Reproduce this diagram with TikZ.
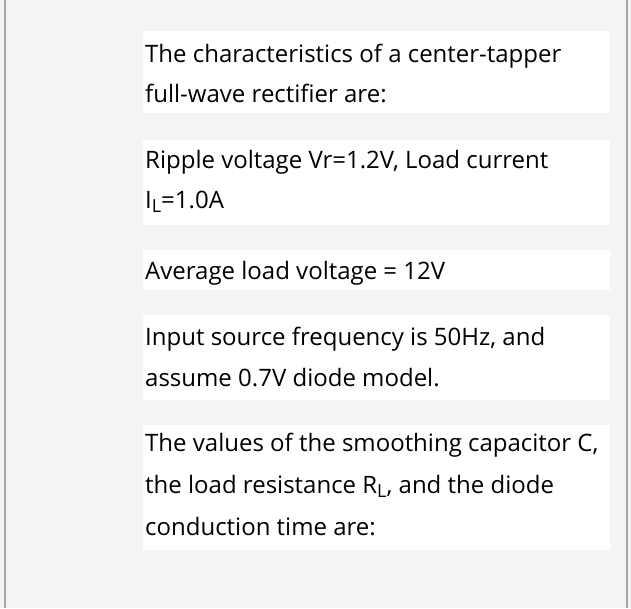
\documentclass[tikz,border=0pt]{standalone}
\usepackage{fontspec}
\setmainfont{Open Sans}
\begin{document}
\begin{tikzpicture}[x=1pt,y=-1pt,
  tl/.style={anchor=base west,inner sep=0pt,font=\fontsize{24}{28}\selectfont},
  box/.style={fill=white,draw=none}]
\fill[gray!9] (0,0) rectangle (631,608);
\useasboundingbox (0,0) rectangle (631,608);
\draw[gray!70,line width=1.2pt] (5,0) -- (5,608) (627,0) -- (627,608);
\fill[white] (143,31) rectangle (610,113);
\fill[white] (143,140) rectangle (610,225);
\fill[white] (143,250) rectangle (610,290);
\fill[white] (143,315) rectangle (610,400);
\fill[white] (143,425) rectangle (610,550);
\node[tl] (l1) at (145,62) {The characteristics of a center-tapper};
\node[tl] (l2) at (145,102) {full-wave rectifier are:};
\node[tl] (l3) at (145,168) {Ripple voltage Vr=1.2V, Load current};
\node[tl] (l4) at (145,208) {I\raisebox{-0.35ex}{\fontsize{18}{20}\selectfont L}=1.0A};
\node[tl] (l5) at (145,279) {Average load voltage = 12V};
\node[tl] (l6) at (145,345) {Input source frequency is 50Hz, and};
\node[tl] (l7) at (145,386) {assume 0.7V diode model.};
\node[tl] (l8) at (145,451) {The values of the smoothing capacitor C,};
\node[tl] (l9) at (145,493) {the load resistance R\raisebox{-0.35ex}{\fontsize{18}{20}\selectfont L}, and the diode};
\node[tl] (l10) at (145,535) {conduction time are:};
\end{tikzpicture}
\end{document}
